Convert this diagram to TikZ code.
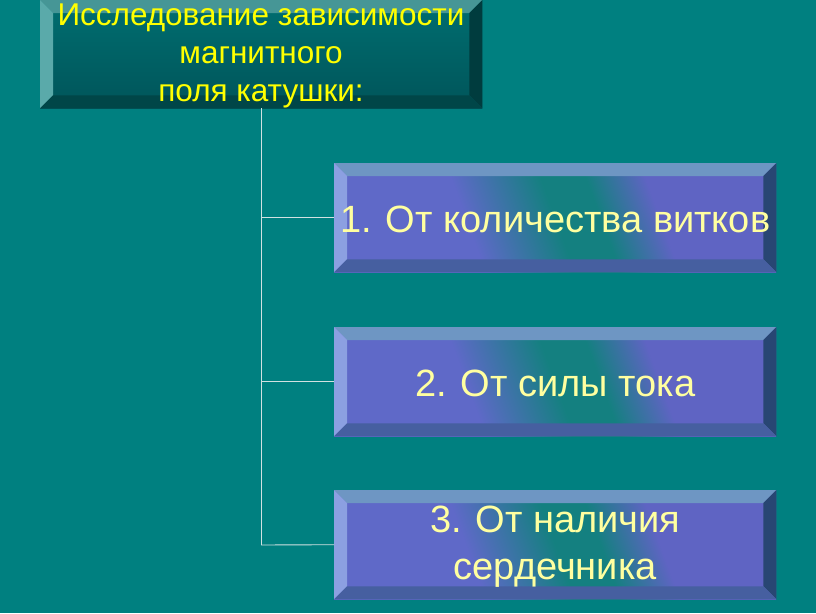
\documentclass[tikz,border=0pt]{standalone}
\usepackage{fontspec}
\setmainfont{Liberation Sans}
\usetikzlibrary{calc}
\definecolor{bg}{RGB}{0,128,128}
\definecolor{ttext}{RGB}{255,255,0}
\definecolor{btext}{RGB}{255,255,160}
\definecolor{tTop}{RGB}{70,150,150}
\definecolor{tLeft}{RGB}{90,170,170}
\definecolor{tRight}{RGB}{0,60,62}
\definecolor{tBot}{RGB}{0,70,72}
\definecolor{sTop}{RGB}{110,150,195}
\definecolor{sLeft}{RGB}{140,160,225}
\definecolor{sRight}{RGB}{40,70,115}
\definecolor{sBot}{RGB}{70,95,160}
\definecolor{tFillA}{RGB}{0,110,112}
\definecolor{tFillB}{RGB}{0,85,90}
\definecolor{sA}{RGB}{95,105,200}
\definecolor{sB}{RGB}{20,128,128}
\definecolor{sC}{RGB}{95,100,195}
\definecolor{linkc}{RGB}{210,225,225}
\pgfdeclarehorizontalshading{subshade}{100bp}{color(0bp)=(sA); color(38bp)=(sA); color(50bp)=(sB); color(56bp)=(sB); color(64bp)=(sC); color(100bp)=(sC)}
\tikzset{
  topbox/.style={minimum width=442pt,minimum height=108pt,inner sep=0pt,top color=tFillA,bottom color=tFillB},
  subbox/.style={minimum width=442pt,minimum height=109pt,inner sep=0pt,shading=subshade,shading angle=20},
  link/.style={draw=linkc,line width=0.9pt}
}
% #1 node, #2 bevel, #3 top, #4 left, #5 right, #6 bottom
\newcommand\bevelize[6]{
  \fill[#3] (#1.north west) -- (#1.north east) -- ($(#1.north east)+(-#2,#2)$) -- ($(#1.north west)+(#2,#2)$) -- cycle;
  \fill[#4] (#1.north west) -- ($(#1.north west)+(#2,#2)$) -- ($(#1.south west)+(#2,-#2)$) -- (#1.south west) -- cycle;
  \fill[#5] (#1.north east) -- ($(#1.north east)+(-#2,#2)$) -- ($(#1.south east)+(-#2,-#2)$) -- (#1.south east) -- cycle;
  \fill[#6] (#1.south west) -- ($(#1.south west)+(#2,-#2)$) -- ($(#1.south east)+(-#2,-#2)$) -- (#1.south east) -- cycle;
}
\begin{document}
\begin{tikzpicture}[x=1pt,y=-1pt]
\fill[bg] (0,0) rectangle (816,613);
\useasboundingbox (0,0) rectangle (816,613);
\coordinate (junc) at (261,545);
\node[topbox,anchor=north west] (top) at (40,0) {};
\bevelize{top}{13}{tTop}{tLeft}{tRight}{tBot}
\node[text=ttext,font=\fontsize{31.5}{38}\selectfont,align=center,inner sep=0pt] (toptext) at (261,56) {Исследование зависимости\\магнитного\\поля катушки:};
\foreach \n/\y/\t in {b1/163/{1. От количества витков},b2/327/{2. От силы тока},b3/490/{3. От наличия\\сердечника}}{
  \node[subbox,anchor=north west] (\n) at (334,\y) {};
  \bevelize{\n}{13}{sTop}{sLeft}{sRight}{sBot}
  \node[text=btext,font=\fontsize{38}{47}\selectfont,align=center,inner sep=0pt] (\n t) at ($(\n.center)+(0,2)$) {\t};
}
\draw[link] (top.south -| junc) -- (junc);
\draw[link] (b1.west -| junc) -- (b1.west);
\draw[link] (b2.west -| junc) -- (b2.west);
\draw[link] (junc) -- (b3.west);
\end{tikzpicture}
\end{document}
